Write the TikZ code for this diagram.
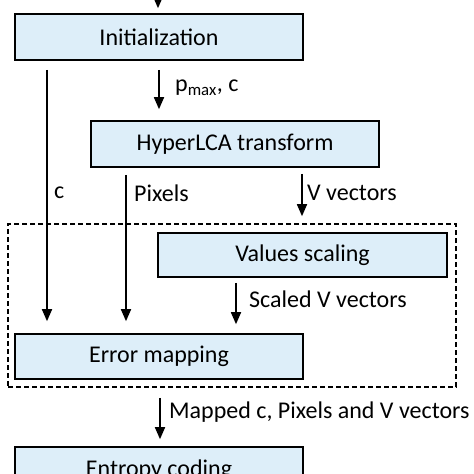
\documentclass[tikz,border=0pt]{standalone}
\usepackage{fontspec}
\setmainfont{Carlito}
\usetikzlibrary{arrows.meta,calc}
\definecolor{boxfill}{HTML}{DDEEF9}
\begin{document}
\begin{tikzpicture}[x=1pt,y=-1pt,
  every node/.style={font=\fontsize{24}{28}\selectfont},
  blk/.style={draw=black,line width=1.6pt,fill=boxfill,minimum width=288pt,minimum height=46pt,inner sep=0pt},
  arr/.style={line width=1.7pt,-{Triangle[width=10pt,length=12pt]}},
  lbl/.style={anchor=west,inner sep=0pt},
  grp/.style={draw=black,line width=1.5pt,dash pattern=on 5pt off 3pt}]
\useasboundingbox (0,0) rectangle (474,474);
\clip (0,0) rectangle (474,474);
\node[blk] (init) at (159,37) {Initialization};
\node[blk] (hyper) at (235,144) {HyperLCA transform};
\node[blk,minimum width=289pt,minimum height=44pt] (values) at (302.5,255) {Values scaling};
\node[blk,minimum height=45pt] (error) at (159,356.5) {Error mapping};
\node[blk] (entropy) at (159,470) {Entropy coding};
\node[grp,minimum width=448pt,minimum height=163pt,inner sep=0pt] (group) at (232,305.5) {};
\coordinate (top) at (158,-5);
\coordinate (xc) at (47,0);
\coordinate (xp) at (126,0);
\coordinate (xm) at (159,0);
\coordinate (xv) at (302,0);
\coordinate (xs) at (236,0);
\coordinate (xe) at (160,0);
\draw[arr,shorten >=5pt] (top) -- (init.north -| top);
\draw[arr,shorten <=9pt,shorten >=11pt] (init.south -| xm) -- (hyper.north -| xm);
\draw[arr,shorten <=9pt,shorten >=12pt] (init.south -| xc) -- (error.north -| xc);
\draw[arr,shorten <=7pt,shorten >=12pt] (hyper.south -| xp) -- (error.north -| xp);
\draw[arr,shorten <=6pt,shorten >=16pt] (hyper.south -| xv) -- (values.north -| xv);
\draw[arr,shorten <=5pt,shorten >=9pt] (values.south -| xs) -- (error.north -| xs);
\draw[arr,shorten <=18pt,shorten >=7pt] (error.south -| xe) -- (entropy.north -| xe);
\node[lbl] (lm) at (175,88) {p\textsubscript{max}, c};
\node[lbl] (lc) at (54,193) {c};
\node[lbl] (lp) at (134,193) {Pixels};
\node[lbl] (lv) at (307,193) {V vectors};
\node[lbl] (ls) at (249,299) {Scaled V vectors};
\node[lbl] (lmap) at (169,412) {Mapped c, Pixels and V vectors};
\end{tikzpicture}
\end{document}
